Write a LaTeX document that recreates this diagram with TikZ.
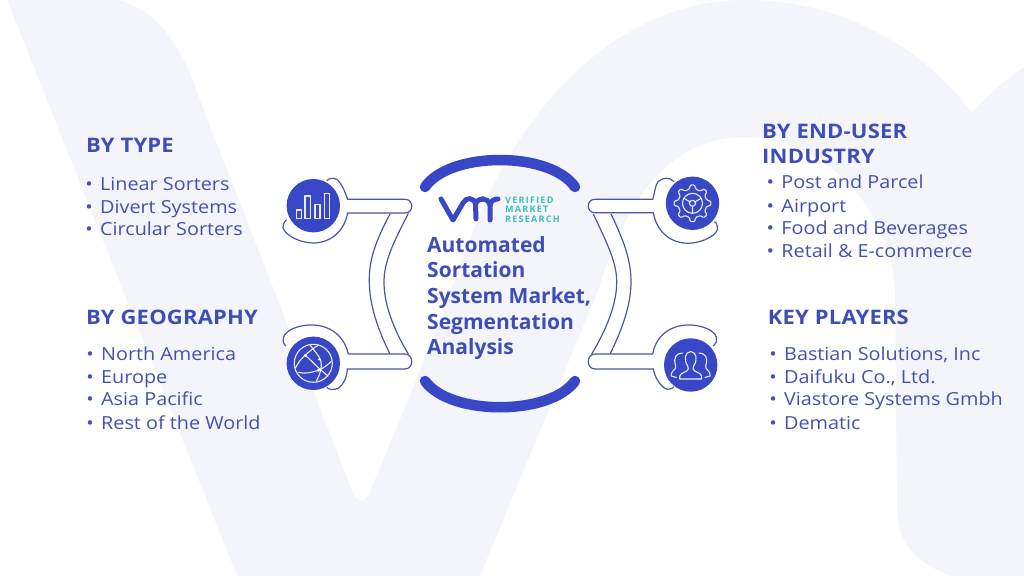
\documentclass[tikz,border=0pt]{standalone}
\usepackage{fontspec}
\setmainfont{Open Sans}
\newfontfamily\entryfont[FakeStretch=1.1]{Open Sans}
\definecolor{palecol}{HTML}{F3F5FB}
\definecolor{inkcol}{HTML}{4450B2}
\definecolor{headcol}{HTML}{3F4DB8}
\definecolor{ballcol}{HTML}{3747C6}
\definecolor{edgecol}{HTML}{4C56A6}
\definecolor{tealcol}{HTML}{3CBDB6}
\newcommand{\itemmark}{\llap{\textbullet\hspace{7.5bp}}}
\tikzset{
  heading/.style={anchor=base west,inner sep=0pt,text=headcol,font=\entryfont\fontsize{20bp}{25bp}\selectfont\bfseries\addfontfeature{LetterSpace=1},align=left},
  entry/.style={anchor=base west,inner sep=0pt,text=inkcol,font=\entryfont\fontsize{18bp}{22bp}\selectfont},
  logotext/.style={anchor=base west,inner sep=0pt,text=tealcol,font=\fontsize{9bp}{9bp}\selectfont\bfseries},
  iconball/.style={circle,fill=ballcol,minimum size=53.4bp,inner sep=0pt},
  glyph/.style={draw=white,line width=1.1bp,opacity=0.9,line join=round},
  handle/.style={draw=edgecol,line width=1.2bp,fill=white},
  band/.style={draw=edgecol,line width=1.2bp},
  bow/.style={draw=ballcol,line width=10.5bp,line cap=round}
}
\begin{document}
\begin{tikzpicture}[x=1bp,y=-1bp]
  \useasboundingbox (0,0) rectangle (1024,576);
  % Backdrop
  \fill[palecol] (7,0) -- (117,0) .. controls (160,10) and (183,50) .. (200,100)
    -- (353,493) .. controls (357,503) and (365,503) .. (369,494)
    -- (413,388) -- (470,240) .. controls (525,90) and (630,0) .. (745,0)
    .. controls (845,0) and (925,50) .. (972,113) .. controls (988,95) and (1005,80) .. (1024,67)
    -- (1024,576) -- (952,576) .. controls (920,565) and (897,545) .. (897,510)
    -- (895,288) .. controls (890,210) and (825,137) .. (745,137)
    .. controls (670,137) and (625,200) .. (599,288)
    -- (480,576) -- (237,576) -- cycle;
  % Node: logo and arcs
  \draw[bow] (425,187) .. controls (450,151) and (550,151) .. (575,187);
  \draw[bow] (425,381) .. controls (450,416) and (550,416) .. (575,381);
  \coordinate (typeOuter) at (390,214);
  \coordinate (typeInner) at (408.3,213.5);
  \coordinate (geoOuter) at (390,354);
  \coordinate (geoInner) at (408.3,354);
  \coordinate (endOuter) at (593.3,214);
  \coordinate (endInner) at (611,214);
  \coordinate (keyOuter) at (591.7,354);
  \coordinate (keyInner) at (610,354);
  % Edge: typeInner -> geoInner
  \fill[white] (typeOuter) .. controls (373,246) and (369,263) .. (369.3,282) .. controls (369.5,305) and (378,330) .. (geoOuter)
    -- (geoInner) .. controls (394,330) and (384,305) .. (384,282) .. controls (384,263) and (392,245) .. (typeInner) -- cycle;
  \draw[band] (typeOuter) .. controls (373,246) and (369,263) .. (369.3,282) .. controls (369.5,305) and (378,330) .. (geoOuter);
  \draw[band] (typeInner) .. controls (392,245) and (384,263) .. (384,282) .. controls (384,305) and (394,330) .. (geoInner);
  % Edge: endInner -> keyInner
  \fill[white] (endOuter) .. controls (608,245) and (616.7,263) .. (616.7,282) .. controls (616.7,305) and (606,330) .. (keyOuter)
    -- (keyInner) .. controls (622,330) and (631,305) .. (631,282) .. controls (631,263) and (626,245) .. (endInner) -- cycle;
  \draw[band] (endOuter) .. controls (608,245) and (616.7,263) .. (616.7,282) .. controls (616.7,305) and (606,330) .. (keyOuter);
  \draw[band] (endInner) .. controls (626,245) and (631,263) .. (631,282) .. controls (631,305) and (622,330) .. (keyInner);
  % Node: handles
  \draw[handle] (326.7,180.7) .. controls (329,178) and (336,176) .. (340,183)
    .. controls (344,188) and (345,193) .. (347.7,199.3) -- (405,199.3)
    .. controls (414,199.3) and (414,213) .. (405,213) -- (347.7,213)
    .. controls (344,232) and (330,243) .. (313,243) .. controls (298,243) and (280,232) .. (283.3,225)
    .. controls (284,222) and (285,221) .. (286.7,220);
  \draw[handle] (285.7,346) .. controls (280,340) and (284,333) .. (292,329)
    .. controls (312,320) and (342,325) .. (348.3,354) -- (405,354)
    .. controls (414,354) and (414,369) .. (405,369) -- (347.3,369)
    .. controls (347,378) and (343,385) .. (338.3,388.3) .. controls (334,390) and (329,390) .. (326.7,387.3);
  \draw[handle] (674,181.7) .. controls (670,177) and (663,177) .. (658,181.7)
    .. controls (655,186) and (655,192) .. (652.7,199.3) -- (595,199.3)
    .. controls (586,199.3) and (586,212.7) .. (595,212.7) -- (653.3,212.7)
    .. controls (657,232) and (670,243) .. (688.3,243.3) .. controls (703,243) and (720,234) .. (717.3,226.7)
    .. controls (717,224) and (716,222) .. (714.3,221.7);
  \draw[handle] (713.3,346) .. controls (720,340) and (716,333) .. (708,329)
    .. controls (688,320) and (658,325) .. (652.7,354) -- (595,354)
    .. controls (586,354) and (586,369) .. (595,369) -- (653.3,369)
    .. controls (655,378) and (660,385) .. (665,388.5) .. controls (668,390) and (672,389) .. (674,386.7);
  % Node: typeIcon
  \node[iconball] (typeIcon) at (313.3,205.7) {};
\begin{scope}[shift={(typeIcon.center)}]
  \draw[glyph] (-16.6,4.3) rectangle (-11.6,13);
  \draw[glyph] (-8.3,-9.7) rectangle (-2.6,13);
  \draw[glyph] (1.7,-1) rectangle (6.7,13);
  \draw[glyph] (11,-12.3) rectangle (16,13);
\end{scope}
  % Node: geoIcon
  \node[iconball] (geoIcon) at (313.3,363.3) {};
\begin{scope}[shift={(geoIcon.center)}]
  \draw[glyph] (0,0) circle (19);
  \draw[glyph] (-3,-18) .. controls (3,-10) and (9,-4) .. (8,2) .. controls (8,8) and (5,14) .. (3,18);
  \draw[glyph] (-18,5) .. controls (-15,-1) and (-12,-5) .. (-8,-8) .. controls (-4,-12) and (1,-16) .. (5,-18);
  \draw[glyph] (-15,9) .. controls (-8,11) and (-1,9) .. (5,7) .. controls (10,5) and (14,2) .. (18,-2);
  \draw[glyph] (-8,-8) .. controls (-2,-3) and (3,3) .. (8,7) -- (15,13);
  \fill[white] (-8,-8) circle (1.6) (5,7) circle (1.6) (6,-4) circle (1.3);
\end{scope}
  % Node: endIcon
  \node[iconball] (endIcon) at (692.5,203.3) {};
\begin{scope}[shift={(endIcon.center)}]
  \draw[glyph,rounded corners=1.2bp] (-12:14.5) \foreach \a in {0,45,...,315} { -- (\a-12:14.5) -- (\a-7:18.5) -- (\a+7:18.5) -- (\a+12:14.5) } -- cycle;
  \draw[glyph] (0,0) circle (10);
  \draw[glyph] (0,0) circle (3);
  \draw[glyph] (90:3) -- (90:10) (210:3) -- (210:10) (330:3) -- (330:10);
\end{scope}
  % Node: keyIcon
  \node[iconball] (keyIcon) at (690.7,365) {};
\begin{scope}[shift={(keyIcon.center)}]
  \draw[glyph] (-11,14) .. controls (-12,9) and (-8,8) .. (-4,6) .. controls (-2,5) and (-2,3) .. (-3,1)
    .. controls (-7,-5) and (-6,-13) .. (0,-13.5) .. controls (6,-13) and (7,-5) .. (3,1)
    .. controls (2,3) and (2,5) .. (4,6) .. controls (8,8) and (12,9) .. (11,14) -- cycle;
  \draw[glyph] (-8,-12) .. controls (-14,-12) and (-18,-8) .. (-15,1) .. controls (-14,5) and (-20,5) .. (-19.5,11) -- (-14,12.5);
  \draw[glyph] (8,-12) .. controls (14,-12) and (18,-8) .. (15,1) .. controls (14,5) and (20,5) .. (19.5,11) -- (14,12.5);
\end{scope}
  % Node: logo
  \draw[draw=ballcol,line width=5bp,line join=round,line cap=round] (441,199) -- (453,220) -- (463,203)
    .. controls (466,197) and (474,197) .. (475.5,204) -- (476,219);
  \draw[draw=ballcol,line width=5bp,line cap=round] (475.5,204) .. controls (478,197) and (488,197) .. (490,205) -- (490,220);
  \draw[draw=ballcol,line width=5bp,line cap=round] (490,205) .. controls (491,200) and (495,199) .. (498,199);
  \node[logotext] (logoTop) at (505,203.4) {\addfontfeature{LetterSpace=14}VERIFIED};
  \node[logotext] (logoMid) at (505,212.8) {\addfontfeature{LetterSpace=14}MARKET};
  \node[logotext] (logoLow) at (505,222.3) {\addfontfeature{LetterSpace=14}RESEARCH};
  % Node: title
  \node[heading,anchor=west,font=\fontsize{21bp}{25.6bp}\selectfont\bfseries] (title) at (427,298) {Automated\\Sortation\\System Market,\\Segmentation\\Analysis};
  % Node: type list
  \node[heading] (typeHead) at (86,153) {BY TYPE};
  \node[entry] (typeA) at (100,190.3) {\itemmark Linear Sorters};
  \node[entry] (typeB) at (100,213.7) {\itemmark Divert Systems};
  \node[entry] (typeC) at (100,236) {\itemmark Circular Sorters};
  % Node: geography list
  \node[heading] (geoHead) at (86,324) {BY GEOGRAPHY};
  \node[entry] (geoA) at (101,360.3) {\itemmark North America};
  \node[entry] (geoB) at (101,383.7) {\itemmark Europe};
  \node[entry] (geoC) at (101,405.3) {\itemmark Asia Pacific};
  \node[entry] (geoD) at (101,429) {\itemmark Rest of the World};
  % Node: end-user list
  \node[heading] (endHead) at (762,163.3) {BY END-USER\\INDUSTRY};
  \node[entry] (endA) at (781.3,189) {\itemmark Post and Parcel};
  \node[entry] (endB) at (781.3,212.3) {\itemmark Airport};
  \node[entry] (endC) at (781.3,235) {\itemmark Food and Beverages};
  \node[entry] (endD) at (781.3,257.7) {\itemmark Retail \& E-commerce};
  % Node: players list
  \node[heading] (keyHead) at (767.7,324.7) {KEY PLAYERS};
  \node[entry] (keyA) at (784,360.3) {\itemmark Bastian Solutions, Inc};
  \node[entry] (keyB) at (784,383.7) {\itemmark Daifuku Co., Ltd.};
  \node[entry] (keyC) at (784,405.7) {\itemmark Viastore Systems Gmbh};
  \node[entry] (keyD) at (784,429) {\itemmark Dematic};
\end{tikzpicture}
\end{document}
